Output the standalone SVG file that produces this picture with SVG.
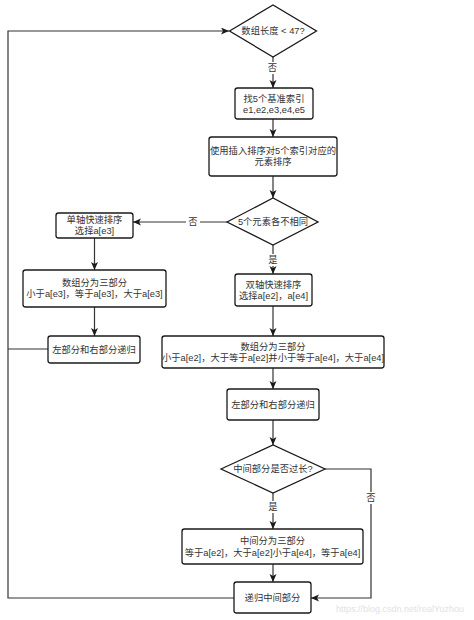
<svg xmlns="http://www.w3.org/2000/svg" width="474" height="620" viewBox="0 0 474 620">
<style>
.n{fill:#fff;stroke:#1a1a1a;stroke-width:1.3}
.t{font-family:"Liberation Sans","Noto Sans CJK SC",sans-serif;font-size:9.3px;fill:#333;text-anchor:middle;dominant-baseline:central}
.c{fill:none;stroke:#333;stroke-width:1.2}
.lb{fill:#fff}
</style>
<defs>
<marker id="ah" markerUnits="userSpaceOnUse" markerWidth="9" markerHeight="8" refX="8" refY="3.5" orient="auto">
<path d="M0,0 L8,3.5 L0,7 L2,3.5 z" fill="#1a1a1a"/>
</marker>
</defs>
<rect width="474" height="620" fill="#fff"/>
<g id="connectors">
<path class="c" d="M234,598 H8 V31 H229" marker-end="url(#ah)"/>
<path class="c" d="M273,57 V88" marker-end="url(#ah)"/>
<path class="c" d="M273,119 V137" marker-end="url(#ah)"/>
<path class="c" d="M273,176 V198" marker-end="url(#ah)"/>
<path class="c" d="M227,222 H133" marker-end="url(#ah)"/>
<path class="c" d="M94.5,238 V270" marker-end="url(#ah)"/>
<path class="c" d="M94.5,307 V336" marker-end="url(#ah)"/>
<path class="c" d="M48,349 H8"/>
<path class="c" d="M273,245 V274" marker-end="url(#ah)"/>
<path class="c" d="M273,306 V336" marker-end="url(#ah)"/>
<path class="c" d="M273,368 V389" marker-end="url(#ah)"/>
<path class="c" d="M273,420 V445" marker-end="url(#ah)"/>
<path class="c" d="M325,469 H371 V598 H311" marker-end="url(#ah)"/>
<path class="c" d="M273,493 V529" marker-end="url(#ah)"/>
<path class="c" d="M273,564 V582" marker-end="url(#ah)"/>
<rect class="lb" x="266" y="62" width="13" height="12"/>
<text class="t" x="272.5" y="68">否</text>
<rect class="lb" x="186" y="216" width="14" height="12"/>
<text class="t" x="193" y="222">否</text>
<rect class="lb" x="266" y="254" width="14" height="12"/>
<text class="t" x="273" y="260">是</text>
<rect class="lb" x="364" y="492" width="14" height="12"/>
<text class="t" x="371" y="498">否</text>
<rect class="lb" x="266" y="501" width="14" height="12"/>
<text class="t" x="273" y="507">是</text>
</g>
<g id="d1">
<polygon class="n" points="229.5,31 273,5 316.5,31 273,57"/>
<text class="t" x="273" y="31">数组长度 &lt; 47?</text>
</g>
<g id="b_find">
<rect class="n" x="235" y="88" width="78" height="31" rx="2.5"/>
<text class="t" x="274" y="98.5">找5个基准索引</text>
<text class="t" x="274" y="109.5">e1,e2,e3,e4,e5</text>
</g>
<g id="b_insert">
<rect class="n" x="209" y="137" width="128" height="39" rx="2.5"/>
<text class="t" x="273" y="151">使用插入排序对5个索引对应的</text>
<text class="t" x="273" y="162">元素排序</text>
</g>
<g id="d2">
<polygon class="n" points="227,222 273,198 318,222 273,245"/>
<text class="t" x="273" y="222">5个元素各不相同</text>
</g>
<g id="b_single">
<rect class="n" x="56" y="213" width="77" height="25" rx="2.5"/>
<text class="t" x="94.5" y="220">单轴快速排序</text>
<text class="t" x="94.5" y="231">选择a[e3]</text>
</g>
<g id="b_split3">
<rect class="n" x="23" y="270" width="143" height="37" rx="2.5"/>
<text class="t" x="94.5" y="283">数组分为三部分</text>
<text class="t" x="94.5" y="294">小于a[e3]，等于a[e3]，大于a[e3]</text>
</g>
<g id="b_rec1">
<rect class="n" x="48" y="336" width="92" height="27" rx="2.5"/>
<text class="t" x="94" y="349.5">左部分和右部分递归</text>
</g>
<g id="b_dual">
<rect class="n" x="235" y="274" width="77" height="32" rx="2.5"/>
<text class="t" x="273.5" y="285">双轴快速排序</text>
<text class="t" x="273.5" y="296">选择a[e2]，a[e4]</text>
</g>
<g id="b_split_dual">
<rect class="n" x="162" y="336" width="222" height="32" rx="2.5"/>
<text class="t" x="273" y="347">数组分为三部分</text>
<text class="t" x="273" y="358">小于a[e2]，大于等于a[e2]并小于等于a[e4]，大于a[e4]</text>
</g>
<g id="b_rec2">
<rect class="n" x="227" y="389" width="92" height="31" rx="2.5"/>
<text class="t" x="273" y="404.5">左部分和右部分递归</text>
</g>
<g id="d3">
<polygon class="n" points="221,469 273,445 325,469 273,493"/>
<text class="t" x="273" y="469">中间部分是否过长?</text>
</g>
<g id="b_mid3">
<rect class="n" x="182" y="529" width="181" height="35" rx="2.5"/>
<text class="t" x="272.5" y="541">中间分为三部分</text>
<text class="t" x="272.5" y="553">等于a[e2]，大于a[e2]小于a[e4]，等于a[e4]</text>
</g>
<g id="b_recmid">
<rect class="n" x="234" y="582" width="77" height="31" rx="2.5"/>
<text class="t" x="272.5" y="597.5">递归中间部分</text>
</g>
<text x="336" y="609" style="font-family:'Liberation Sans',sans-serif;font-size:9px;fill:#e2e2e2;dominant-baseline:central">https://blog.csdn.net/realYuzhou</text>
</svg>
